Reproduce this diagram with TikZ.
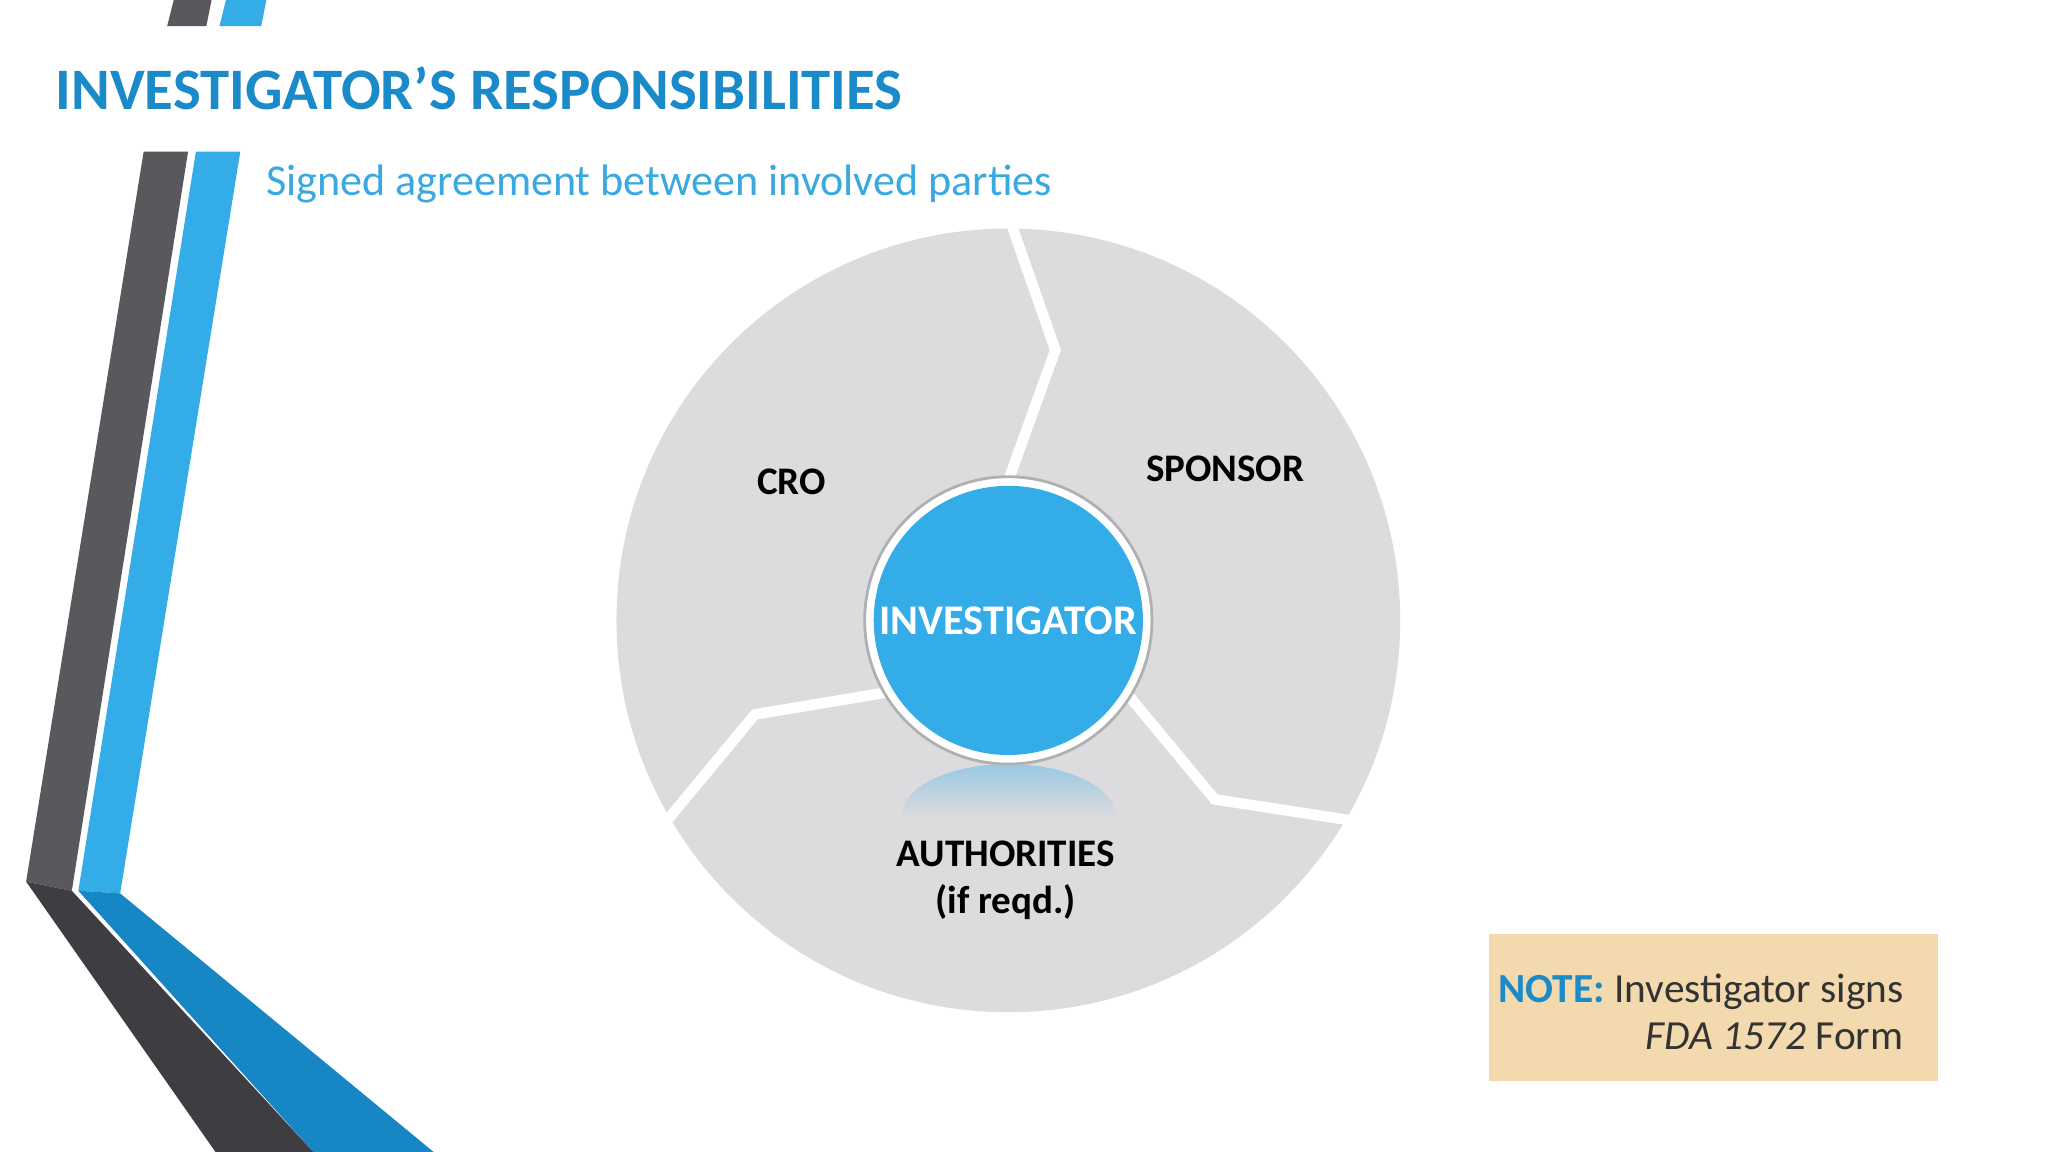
\documentclass[tikz,border=0pt]{standalone}
\usepackage{fontspec}
\setmainfont{Carlito}
\usetikzlibrary{shapes.geometric}
\definecolor{dgray}{HTML}{59585C}
\definecolor{ddgray}{HTML}{3E3D41}
\definecolor{lblue}{HTML}{33ACE8}
\definecolor{mblue}{HTML}{1786C5}
\definecolor{tblue}{HTML}{1A8AC9}
\definecolor{sblue}{HTML}{3AA9E0}
\definecolor{cgray}{HTML}{DCDBDE}
\definecolor{notec}{HTML}{F2D9AE}
\tikzset{lbl/.style={font=\fontsize{8.5}{10}\selectfont\bfseries, text=black, align=center},
 gap/.style={draw=white, line width=2.3pt, line join=miter}}
\begin{document}
\begin{tikzpicture}[x=0.01cm,y=-0.01cm]
\useasboundingbox (0,0) rectangle (1568,882);
\fill[white] (0,0) rectangle (1568,882);
% top bars
\fill[dgray] (133,0) -- (162,0) -- (158,20) -- (128,20) -- cycle;
\fill[lblue] (173,0) -- (204,0) -- (200,20) -- (168,20) -- cycle;
% left stripes
\fill[dgray] (110,116) -- (144,116) -- (55,682) -- (20,675) -- cycle;
\fill[ddgray] (20,675) -- (55,682) -- (240,882) -- (165,882) -- cycle;
\fill[lblue] (150,116) -- (184,116) -- (92,684) -- (60,682) -- cycle;
\fill[mblue] (60,682) -- (92,684) -- (332,882) -- (240,882) -- cycle;
% title
\node[anchor=base west, inner sep=0, text=tblue, font=\fontsize{12.8}{14}\selectfont\bfseries] (title) at (42,84) {INVESTIGATOR’S RESPONSIBILITIES};
\node[anchor=base west, inner sep=0, text=sblue, font=\fontsize{9.6}{11}\selectfont] (sub) at (203,150) {Signed agreement between involved parties};
% big circle
\fill[cgray] (772,475) circle (300);
\draw[gap] (772,165) -- (808,268) -- (772,368);
\draw[gap] (862,530) -- (930,612) -- (1040,629);
\draw[gap] (680,530) -- (578,547) -- (505,635);
% reflection
\shade[top color=lblue!40!cgray, bottom color=cgray] (690,625) arc (180:360:82 and 40) -- cycle;
\fill[white] (772,475) circle (109);
\draw[cgray!80!black, line width=0.6pt] (772,475) circle (110);
\node[circle, fill=lblue, minimum size=2.06cm, inner sep=0, text=white, font=\fontsize{9.2}{11}\selectfont\bfseries] (inv) at (772,475) {INVESTIGATOR};
\node[lbl] (cro) at (606,369) {CRO};
\node[lbl] (sp) at (938,359) {SPONSOR};
\node[lbl, font=\fontsize{8.5}{10.2}\selectfont\bfseries] (auth) at (770,674) {AUTHORITIES\\(if reqd.)};
% note
\fill[notec] (1140,715) rectangle (1484,828);
\node[anchor=east, align=right, inner sep=0, font=\fontsize{9}{10.2}\selectfont, text=black!80] (note) at (1458,775)
 {{\bfseries\color{tblue}NOTE:} Investigator signs\\\textit{FDA 1572} Form};
\end{tikzpicture}
\end{document}
